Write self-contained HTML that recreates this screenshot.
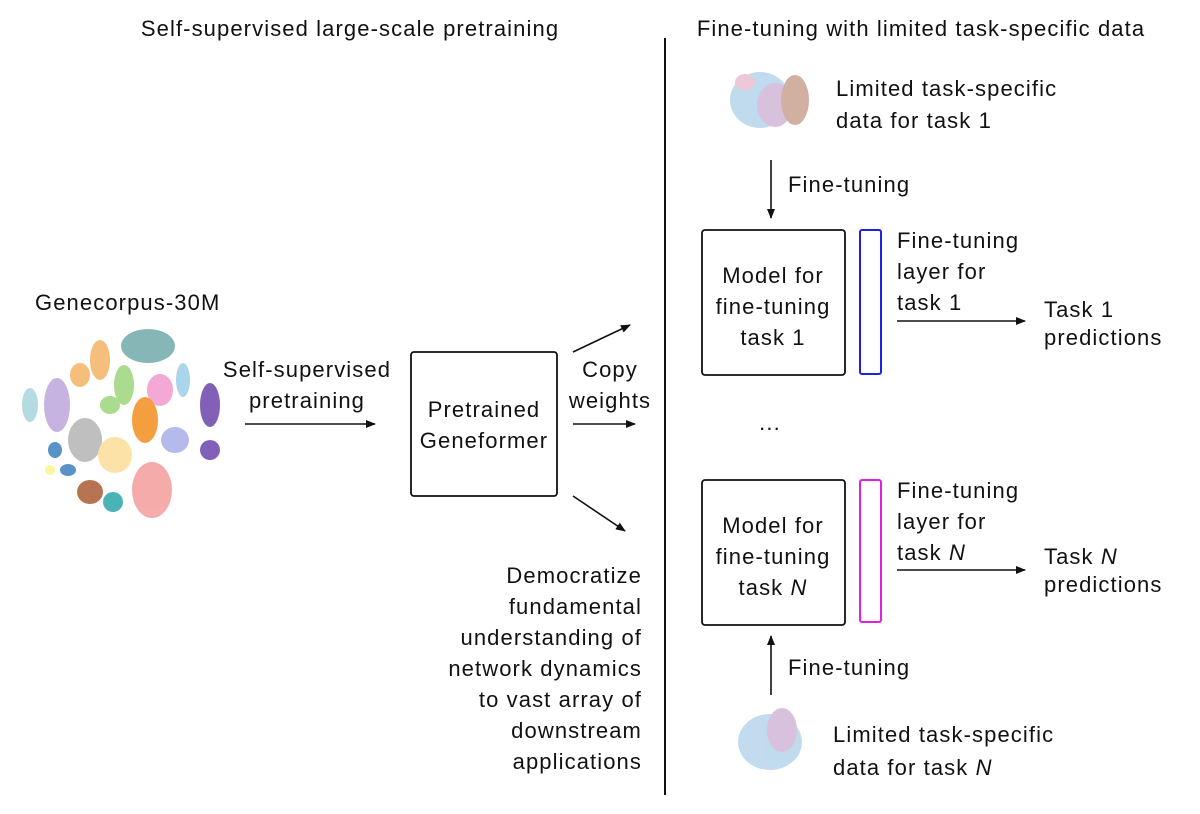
<!DOCTYPE html>
<html><head><meta charset="utf-8"><style>
body{margin:0;background:#fff}
svg{display:block}
text{font-family:"Liberation Sans",sans-serif;font-size:22px;letter-spacing:1.1px;fill:#111}
</style></head><body>
<svg width="1200" height="814" viewBox="0 0 1200 814">
<defs>
<marker id="a" markerWidth="10" markerHeight="8" refX="9" refY="4" orient="auto" markerUnits="userSpaceOnUse"><path d="M0,0 L10,4 L0,8 Z" fill="#111"/></marker>
</defs>
<text x="350" y="36" text-anchor="middle">Self-supervised large-scale pretraining</text>
<text x="921" y="36" text-anchor="middle">Fine-tuning with limited task-specific data</text>
<line x1="665" y1="38" x2="665" y2="795" stroke="#111" stroke-width="2"/>

<text x="35" y="310">Genecorpus-30M</text>
<g opacity="0.75">
<ellipse cx="148" cy="346" rx="27" ry="17" fill="#5f9ea0"/>
<ellipse cx="100" cy="360" rx="10" ry="20" fill="#f4a950"/>
<ellipse cx="80" cy="375" rx="10" ry="12" fill="#f4a950"/>
<ellipse cx="124" cy="385" rx="10" ry="20" fill="#8fcf6a"/>
<ellipse cx="110" cy="405" rx="10" ry="9" fill="#8fcf6a"/>
<ellipse cx="160" cy="390" rx="13" ry="16" fill="#f08cc8"/>
<ellipse cx="145" cy="420" rx="13" ry="23" fill="#f07f00"/>
<ellipse cx="57" cy="405" rx="13" ry="27" fill="#b49ad8"/>
<ellipse cx="30" cy="405" rx="8" ry="17" fill="#9ccfd8"/>
<ellipse cx="85" cy="440" rx="17" ry="22" fill="#aaa"/>
<ellipse cx="115" cy="455" rx="17" ry="18" fill="#fcd98a"/>
<ellipse cx="175" cy="440" rx="14" ry="13" fill="#9da3e8"/>
<ellipse cx="210" cy="405" rx="10" ry="22" fill="#5a2ca0"/>
<ellipse cx="210" cy="450" rx="10" ry="10" fill="#5a2ca0"/>
<ellipse cx="183" cy="380" rx="7" ry="17" fill="#8ec8e8"/>
<ellipse cx="55" cy="450" rx="7" ry="8" fill="#1f6fb5"/>
<ellipse cx="68" cy="470" rx="8" ry="6" fill="#1f6fb5"/>
<ellipse cx="152" cy="490" rx="20" ry="28" fill="#f49090"/>
<ellipse cx="90" cy="492" rx="13" ry="12" fill="#a0461a"/>
<ellipse cx="113" cy="502" rx="10" ry="10" fill="#109aa0"/>
<ellipse cx="50" cy="470" rx="5" ry="5" fill="#fff27a"/>
</g>
<text x="307" y="377" text-anchor="middle">Self-supervised</text>
<text x="307" y="408" text-anchor="middle">pretraining</text>
<line x1="245" y1="424" x2="375" y2="424" stroke="#111" stroke-width="1.6" marker-end="url(#a)"/>
<rect x="411" y="352" width="146" height="144" rx="3" fill="none" stroke="#111" stroke-width="1.8"/>
<text x="484" y="417" text-anchor="middle">Pretrained</text>
<text x="484" y="448" text-anchor="middle">Geneformer</text>
<line x1="573" y1="352" x2="630" y2="325" stroke="#111" stroke-width="1.6" marker-end="url(#a)"/>
<line x1="573" y1="424" x2="635" y2="424" stroke="#111" stroke-width="1.6" marker-end="url(#a)"/>
<line x1="573" y1="496" x2="625" y2="531" stroke="#111" stroke-width="1.6" marker-end="url(#a)"/>
<text x="610" y="377" text-anchor="middle">Copy</text>
<text x="610" y="408" text-anchor="middle">weights</text>
<g text-anchor="end">
<text x="642" y="583">Democratize</text>
<text x="642" y="614">fundamental</text>
<text x="642" y="645">understanding of</text>
<text x="642" y="676">network dynamics</text>
<text x="642" y="707">to vast array of</text>
<text x="642" y="738">downstream</text>
<text x="642" y="769">applications</text>
</g>

<g opacity="0.7">
<ellipse cx="760" cy="100" rx="30" ry="28" fill="#a8cce8"/>
<ellipse cx="775" cy="105" rx="18" ry="22" fill="#c8a8d0"/>
<ellipse cx="795" cy="100" rx="14" ry="25" fill="#c0907a"/>
<ellipse cx="745" cy="82" rx="10" ry="8" fill="#e8b0c8"/>
</g>
<text x="836" y="96">Limited task-specific</text>
<text x="836" y="128">data for task 1</text>
<line x1="771" y1="160" x2="771" y2="218" stroke="#111" stroke-width="1.6" marker-end="url(#a)"/>
<text x="788" y="192">Fine-tuning</text>

<rect x="702" y="230" width="143" height="145" rx="3" fill="none" stroke="#111" stroke-width="1.8"/>
<text x="773" y="283" text-anchor="middle">Model for</text>
<text x="773" y="314" text-anchor="middle">fine-tuning</text>
<text x="773" y="345" text-anchor="middle">task 1</text>
<rect x="860" y="230" width="21" height="144" rx="2" fill="none" stroke="#2020e0" stroke-width="2"/>
<text x="897" y="248">Fine-tuning</text>
<text x="897" y="279">layer for</text>
<text x="897" y="310">task 1</text>
<line x1="897" y1="321" x2="1025" y2="321" stroke="#111" stroke-width="1.6" marker-end="url(#a)"/>
<text x="1044" y="317">Task 1</text>
<text x="1044" y="345">predictions</text>

<text x="770" y="430" text-anchor="middle">...</text>

<rect x="702" y="480" width="143" height="145" rx="3" fill="none" stroke="#111" stroke-width="1.8"/>
<text x="773" y="533" text-anchor="middle">Model for</text>
<text x="773" y="564" text-anchor="middle">fine-tuning</text>
<text x="773" y="595" text-anchor="middle">task <tspan font-style="italic">N</tspan></text>
<rect x="860" y="480" width="21" height="142" rx="2" fill="none" stroke="#e020e0" stroke-width="2"/>
<text x="897" y="498">Fine-tuning</text>
<text x="897" y="529">layer for</text>
<text x="897" y="560">task <tspan font-style="italic">N</tspan></text>
<line x1="897" y1="570" x2="1025" y2="570" stroke="#111" stroke-width="1.6" marker-end="url(#a)"/>
<text x="1044" y="564">Task <tspan font-style="italic">N</tspan></text>
<text x="1044" y="592">predictions</text>

<line x1="771" y1="695" x2="771" y2="636" stroke="#111" stroke-width="1.6" marker-end="url(#a)"/>
<text x="788" y="675">Fine-tuning</text>
<g opacity="0.7">
<ellipse cx="770" cy="742" rx="32" ry="28" fill="#a8cce8"/>
<ellipse cx="782" cy="730" rx="15" ry="22" fill="#c8a8d0"/>
</g>
<text x="833" y="742">Limited task-specific</text>
<text x="833" y="775">data for task <tspan font-style="italic">N</tspan></text>
</svg>
</body></html>
